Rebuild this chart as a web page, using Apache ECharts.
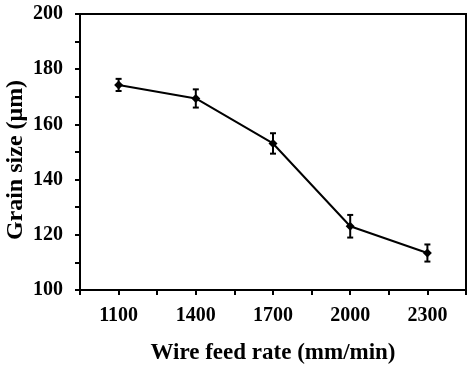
<!DOCTYPE html>
<html><head><meta charset="utf-8">
<script src="https://cdn.jsdelivr.net/npm/echarts@6/dist/echarts.min.js"></script>
<style>html,body{margin:0;padding:0;background:#fff}#c{width:474px;height:372px}</style>
</head><body><div id="c"></div>
<script>
const feedRates = [1100, 1400, 1700, 2000, 2300];
const grainSize = [174.3, 169.4, 153.1, 123.1, 113.4];
const errorBars = [2.2, 3.3, 3.7, 4.1, 3.1];
const xTickLabels = [1100, 1400, 1700, 2000, 2300];
const yTickLabels = [100, 120, 140, 160, 180, 200];

const font = '"Liberation Serif", "Times New Roman", serif';
const chart = echarts.init(document.getElementById('c'));
const lineData = feedRates.map((x, i) => [x, grainSize[i]]);
const errData = feedRates.map((x, i) => [x, grainSize[i] - errorBars[i], grainSize[i] + errorBars[i]]);

chart.setOption({
  animation: false,
  grid: { left: 80, right: 8, top: 14, bottom: 82, show: true, borderColor: '#000', borderWidth: 2,
          containLabel: false, outerBoundsMode: 'none' },
  xAxis: {
    type: 'value', min: 950, max: 2450, interval: 150,
    name: 'Wire feed rate (mm/min)', nameLocation: 'middle', nameGap: 52, nameMoveOverlap: false,
    nameTextStyle: { fontFamily: font, fontWeight: 'bold', fontSize: 23, color: '#000' },
    axisLine: { show: true, lineStyle: { color: '#000', width: 2 } },
    axisTick: { show: true, inside: false, length: 5, lineStyle: { color: '#000', width: 2 } },
    splitLine: { show: false },
    axisLabel: {
      margin: 16, fontFamily: font, fontWeight: 'bold', fontSize: 20, color: '#000',
      formatter: v => xTickLabels.includes(v) ? String(v) : ''
    }
  },
  yAxis: {
    type: 'value', min: 100, max: 200, interval: 10,
    name: 'Grain size (μm)', nameLocation: 'middle', nameGap: 52, nameMoveOverlap: false,
    nameTextStyle: { fontFamily: font, fontWeight: 'bold', fontSize: 24, color: '#000', padding: [0, 16, 0, 0] },
    axisLine: { show: true, lineStyle: { color: '#000', width: 2 } },
    axisTick: { show: true, inside: false, length: 5, lineStyle: { color: '#000', width: 2 } },
    splitLine: { show: false },
    axisLabel: {
      margin: 17, fontFamily: font, fontWeight: 'bold', fontSize: 20, color: '#000',
      formatter: v => yTickLabels.includes(v) ? String(v) : ''
    }
  },
  series: [
    {
      type: 'line', data: lineData, symbol: 'diamond', symbolSize: 9,
      lineStyle: { color: '#000', width: 2 }, itemStyle: { color: '#000' }, z: 3
    },
    {
      type: 'custom', data: errData, z: 2,
      renderItem: (params, api) => {
        const x = api.value(0);
        const lo = api.coord([x, api.value(1)]);
        const hi = api.coord([x, api.value(2)]);
        const w = 3;
        const st = { stroke: '#000', lineWidth: 2 };
        return { type: 'group', children: [
          { type: 'line', shape: { x1: lo[0], y1: lo[1], x2: hi[0], y2: hi[1] }, style: st },
          { type: 'line', shape: { x1: lo[0]-w, y1: lo[1], x2: lo[0]+w, y2: lo[1] }, style: st },
          { type: 'line', shape: { x1: hi[0]-w, y1: hi[1], x2: hi[0]+w, y2: hi[1] }, style: st }
        ]};
      }
    }
  ]
});
</script></body></html>
